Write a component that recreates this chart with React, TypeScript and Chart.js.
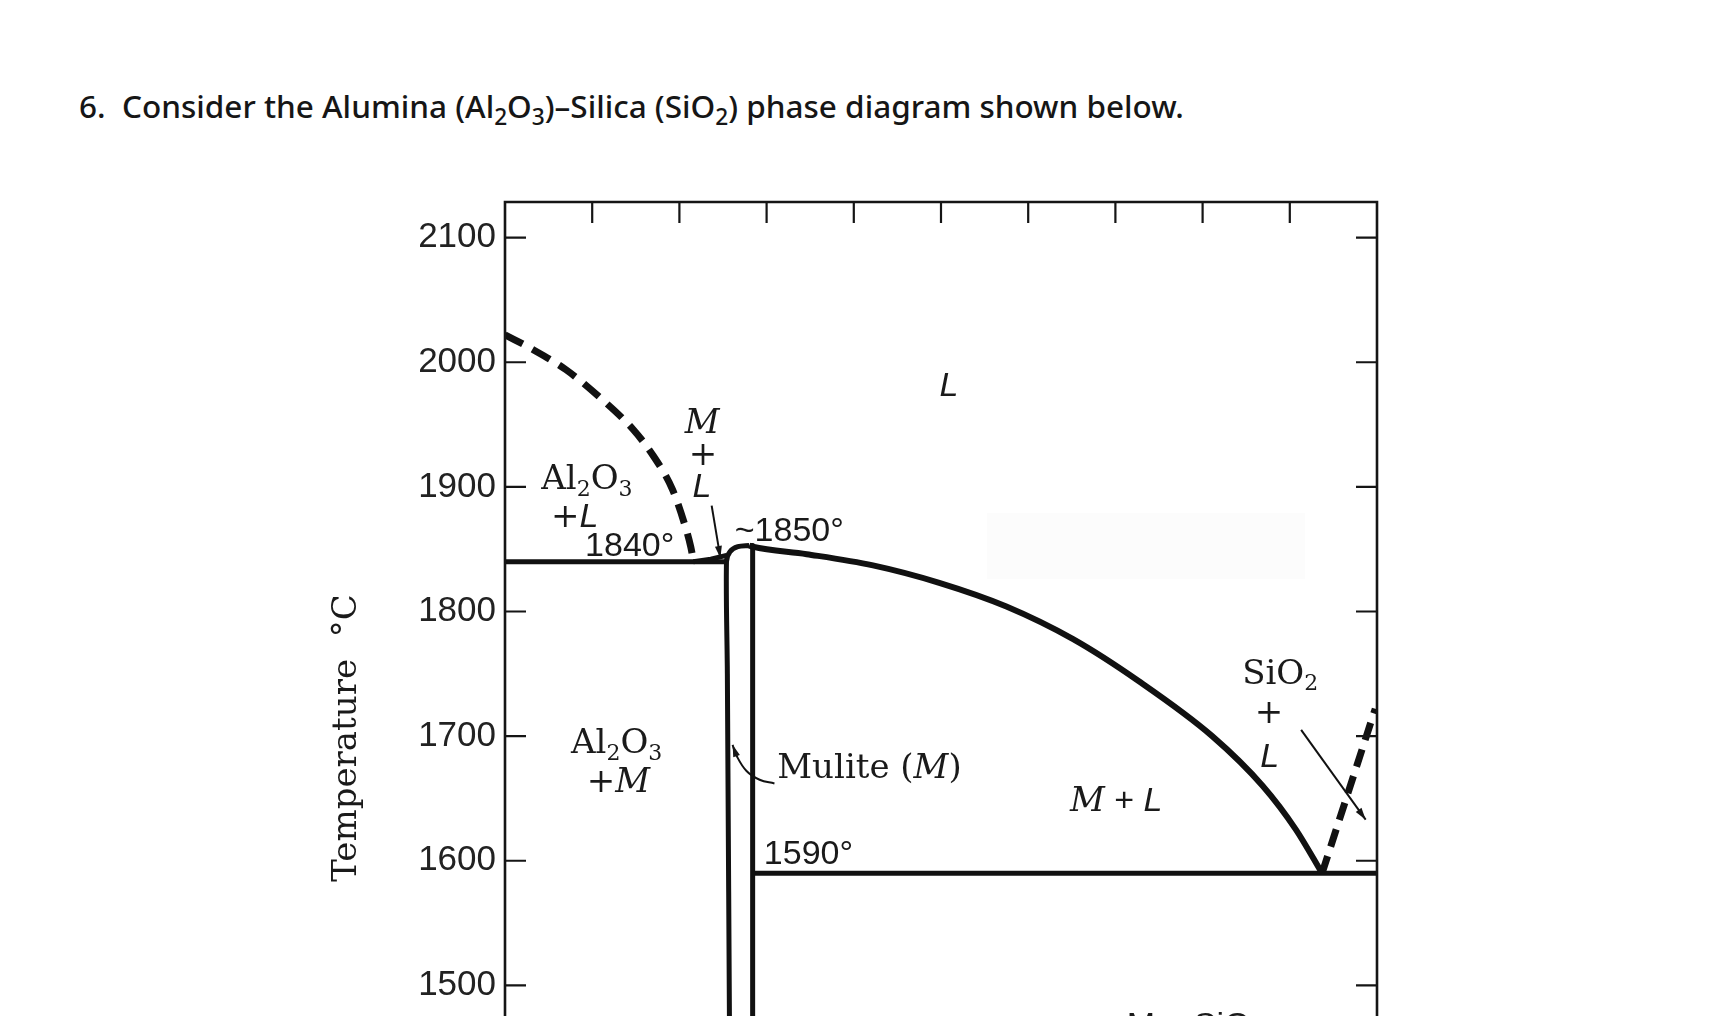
import React, { useEffect, useRef } from "react";
import { Chart, registerables } from "chart.js";

Chart.register(...registerables);

// ---------- data (composition wt% SiO2 vs temperature °C) ----------
const temperatureTicks = [1500, 1600, 1700, 1800, 1900, 2000, 2100];
const compositionTicks = [10, 20, 30, 40, 50, 60, 70, 80, 90];

const aluminaLiquidusX = [0, 3, 7, 11, 14.7, 17, 19.2, 20.6, 21.3, 21.6];
const aluminaLiquidusT = [2022, 2011, 1994, 1971, 1946, 1925, 1898, 1870, 1852, 1841];

const eutectic1840X = [0, 25.4];
const eutectic1840T = [1840, 1840];

const mlLiquidusX = [21.6, 23.6, 25.4];
const mlLiquidusT = [1840, 1842, 1845];

const mulliteLeftX = [25.8, 25.5, 25.4, 25.8, 26.7, 28.0];
const mulliteLeftT = [1400, 1750, 1840, 1848, 1852, 1853];

const mulliteRightX = [28.4, 28.4];
const mulliteRightT = [1853, 1400];

const mulliteLiquidusX = [28.0, 28.4, 34.6, 42.2, 49.8, 57.5, 65.1, 72.7, 81.1, 86.9, 90.7, 93.7];
const mulliteLiquidusT = [1853, 1852, 1846, 1837, 1823, 1804, 1778, 1744, 1700, 1660, 1625, 1590];

const eutectic1590X = [28.4, 100];
const eutectic1590T = [1590, 1590];

const silicaLiquidusX = [93.7, 99.8];
const silicaLiquidusT = [1590, 1722];

const leaderSilicaX = [91.3, 98.7];
const leaderSilicaT = [1705, 1633];

const leaderMLX = [23.7, 24.7];
const leaderMLT = [1885, 1843];

const leaderMulliteX = [30.9, 29.2, 27.7, 26.5, 26.1];
const leaderMulliteT = [1662, 1665, 1672, 1685, 1693];

type Run = [string, string];
const regionLabels: { x: number; t: number; runs: Run[] }[] = [
  { x: 50.9, t: 1983, runs: [["L", "sansI"]] },
  { x: 22.6, t: 1953, runs: [["M", "serifI"]] },
  { x: 22.7, t: 1927, runs: [["+", "serif"]] },
  { x: 22.6, t: 1902, runs: [["L", "sansI"]] },
  { x: 9.4, t: 1908, runs: [["Al", "serif"], ["2", "sub"], ["O", "serif"], ["3", "sub"]] },
  { x: 8.0, t: 1878, runs: [["+", "serif"], ["L", "sansI"]] },
  { x: 14.3, t: 1854, runs: [["1840°", "sans"]] },
  { x: 32.6, t: 1866, runs: [["~1850°", "sans"]] },
  { x: 12.8, t: 1696, runs: [["Al", "serif"], ["2", "sub"], ["O", "serif"], ["3", "sub"]] },
  { x: 13.0, t: 1665, runs: [["+", "serif"], ["M", "serifI"]] },
  { x: 41.8, t: 1676, runs: [["Mulite (", "serif"], ["M", "serifI"], [")", "serif"]] },
  { x: 70.1, t: 1650, runs: [["M", "serifI"], [" + ", "sans"], ["L", "sansI"]] },
  { x: 34.8, t: 1607, runs: [["1590°", "sans"]] },
  { x: 88.9, t: 1752, runs: [["SiO", "serif"], ["2", "sub"]] },
  { x: 87.6, t: 1720, runs: [["+", "serif"]] },
  { x: 87.7, t: 1685, runs: [["L", "sansI"]] },
  { x: 79.1, t: 1469, runs: [["M + SiO", "sans"], ["2", "subSans"]] },
];

const pts = (xs: number[], ts: number[]) => xs.map((x, i) => ({ x, y: ts[i] }));

function drawRuns(ctx: CanvasRenderingContext2D, runs: Run[], cx: number, cy: number, size: number) {
  const fonts: Record<string, string> = {
    serif: `${size}px "DejaVu Serif"`,
    serifI: `italic ${size}px "DejaVu Serif"`,
    sans: `${size}px "Liberation Sans"`,
    sansI: `italic ${size}px "Liberation Sans"`,
    sub: `${Math.round(size * 0.65)}px "DejaVu Serif"`,
    subSans: `${Math.round(size * 0.65)}px "Liberation Sans"`,
  };
  let total = 0;
  const widths = runs.map(([txt, f]) => {
    ctx.font = fonts[f];
    const w = ctx.measureText(txt).width;
    total += w;
    return w;
  });
  let x = cx - total / 2;
  const base = cy + size * 0.36;
  runs.forEach(([txt, f], i) => {
    ctx.font = fonts[f];
    const isSub = f === "sub" || f === "subSans";
    ctx.fillText(txt, x, isSub ? base + size * 0.2 : base);
    x += widths[i];
  });
}

function arrowHead(ctx: CanvasRenderingContext2D, x0: number, y0: number, x1: number, y1: number, len: number, half: number) {
  const a = Math.atan2(y1 - y0, x1 - x0);
  ctx.beginPath();
  ctx.moveTo(x1, y1);
  ctx.lineTo(x1 - len * Math.cos(a) + half * Math.sin(a), y1 - len * Math.sin(a) - half * Math.cos(a));
  ctx.lineTo(x1 - len * Math.cos(a) - half * Math.sin(a), y1 - len * Math.sin(a) + half * Math.cos(a));
  ctx.closePath();
  ctx.fill();
}

const overlayPlugin = {
  id: "phaseOverlay",
  beforeDatasetsDraw(chart: any) {
    const { ctx } = chart;
    ctx.save();
    ctx.fillStyle = "#fcfcfc";
    ctx.fillRect(987, 513, 318, 66);
    ctx.restore();
  },
  afterDatasetsDraw(chart: any) {
    const { ctx, chartArea, scales } = chart;
    const { left, right, top, bottom } = chartArea;
    const xs = scales.x;
    const ys = scales.y;
    ctx.save();
    ctx.strokeStyle = "#151515";
    ctx.fillStyle = "#151515";
    // frame
    ctx.lineWidth = 2.6;
    ctx.beginPath();
    ctx.moveTo(left, bottom + 20);
    ctx.lineTo(left, top);
    ctx.lineTo(right, top);
    ctx.lineTo(right, bottom + 20);
    ctx.stroke();
    // inward ticks
    ctx.lineWidth = 2.2;
    ctx.beginPath();
    temperatureTicks.forEach((t) => {
      const py = ys.getPixelForValue(t);
      ctx.moveTo(left, py);
      ctx.lineTo(left + 21, py);
      ctx.moveTo(right, py);
      ctx.lineTo(right - 21, py);
    });
    compositionTicks.forEach((c) => {
      const px = xs.getPixelForValue(c);
      ctx.moveTo(px, top);
      ctx.lineTo(px, top + 21);
    });
    ctx.stroke();

    // arrow heads on leader lines
    const heads = [
      [leaderSilicaX, leaderSilicaT],
      [leaderMLX, leaderMLT],
      [leaderMulliteX, leaderMulliteT],
    ];
    heads.forEach(([hx, ht]) => {
      const n = hx.length;
      arrowHead(
        ctx,
        xs.getPixelForValue(hx[n - 2]),
        ys.getPixelForValue(ht[n - 2]),
        xs.getPixelForValue(hx[n - 1]),
        ys.getPixelForValue(ht[n - 1]),
        12,
        3.5
      );
    });

    // region labels
    ctx.textAlign = "left";
    ctx.textBaseline = "alphabetic";
    ctx.fillStyle = "#1a1a1a";
    regionLabels.forEach((lb) => {
      drawRuns(ctx, lb.runs, xs.getPixelForValue(lb.x), ys.getPixelForValue(lb.t), 34);
    });

    // y axis title
    ctx.save();
    ctx.translate(356, 738);
    ctx.rotate(-Math.PI / 2);
    ctx.textAlign = "center";
    ctx.font = '34px "DejaVu Serif"';
    ctx.fillText("Temperature  °C", 0, 0);
    ctx.restore();

    ctx.restore();
  },
};

export default function App() {
  const canvasRef = useRef<HTMLCanvasElement | null>(null);

  useEffect(() => {
    if (!canvasRef.current) return;
    const solid = (xs: number[], ts: number[], w: number, extra: any = {}) => ({
      data: pts(xs, ts),
      showLine: true,
      borderColor: "#111",
      borderWidth: w,
      pointRadius: 0,
      fill: false,
      borderCapStyle: "butt",
      borderJoinStyle: "round",
      ...extra,
    });
    const chart = new Chart(canvasRef.current, {
      type: "scatter",
      data: {
        datasets: [
          solid(aluminaLiquidusX, aluminaLiquidusT, 7, { borderDash: [20, 11], cubicInterpolationMode: "monotone" }),
          solid(eutectic1840X, eutectic1840T, 5),
          solid(mlLiquidusX, mlLiquidusT, 5),
          solid(mulliteLeftX, mulliteLeftT, 5, { tension: 0.3 }),
          solid(mulliteRightX, mulliteRightT, 5),
          solid(mulliteLiquidusX, mulliteLiquidusT, 6, { cubicInterpolationMode: "monotone" }),
          solid(eutectic1590X, eutectic1590T, 5),
          solid(silicaLiquidusX, silicaLiquidusT, 7, { borderDash: [18, 10] }),
          solid(leaderSilicaX, leaderSilicaT, 2),
          solid(leaderMLX, leaderMLT, 2),
          solid(leaderMulliteX, leaderMulliteT, 2, { tension: 0.4 }),
        ],
      },
      options: {
        animation: false,
        responsive: false,
        devicePixelRatio: 1,
        layout: { padding: { left: 0, top: 202, right: 343, bottom: 27 } },
        plugins: { legend: { display: false }, tooltip: { enabled: false } },
        scales: {
          x: {
            type: "linear",
            min: 0,
            max: 100,
            display: false,
          },
          y: {
            type: "linear",
            min: 1400,
            max: 2128.6,
            grid: { display: false, drawTicks: false },
            border: { display: false },
            afterBuildTicks: (scale: any) => {
              scale.ticks = temperatureTicks.map((v) => ({ value: v }));
            },
            afterFit: (scale: any) => {
              scale.width = 505;
            },
            ticks: {
              padding: 9,
              color: "#222",
              font: { family: '"Liberation Sans"', size: 35 },
              callback: (v: any) => String(v),
            },
          },
        },
      },
      plugins: [overlayPlugin],
    });
    return () => chart.destroy();
  }, []);

  const sub = { fontSize: "0.72em", position: "relative" as const, top: "0.3em", lineHeight: 0 };

  return (
    <div
      style={{
        position: "fixed",
        left: 0,
        top: 0,
        width: 1720,
        height: 1016,
        overflow: "hidden",
        background: "#fff",
      }}
    >
      <div
        style={{
          position: "absolute",
          left: 79,
          top: 87,
          fontFamily: '"Noto Sans", sans-serif',
          fontSize: 31.5,
          fontWeight: 500,
          lineHeight: "38px",
          color: "#161616",
          whiteSpace: "nowrap",
        }}
      >
        6.&nbsp; Consider the Alumina (Al<span style={sub}>2</span>O<span style={sub}>3</span>)–Silica (SiO
        <span style={sub}>2</span>) phase diagram shown below.
      </div>
      <canvas
        ref={canvasRef}
        width={1720}
        height={1140}
        style={{ position: "absolute", left: 0, top: 0, width: 1720, height: 1140 }}
      />
    </div>
  );
}
